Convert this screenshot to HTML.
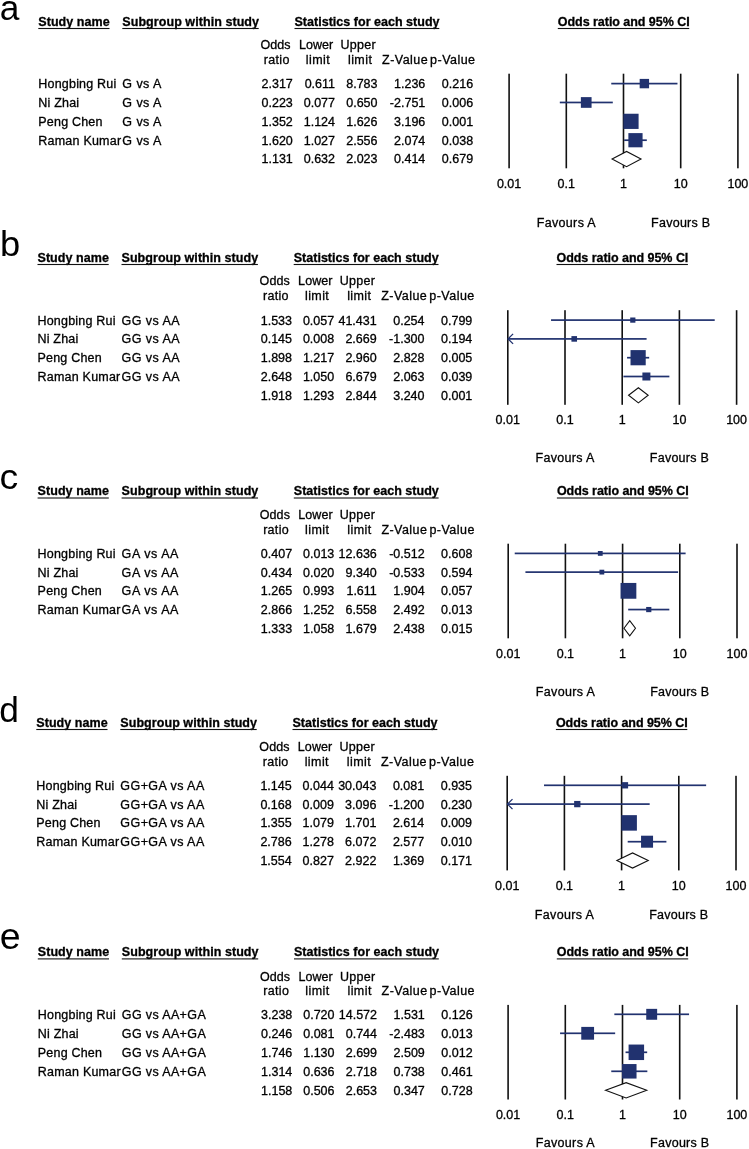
<!DOCTYPE html>
<html lang="en"><head><meta charset="utf-8"><title>Forest plots</title>
<style>
html,body{margin:0;padding:0;background:#fff;}
body{width:749px;height:1149px;overflow:hidden;}
svg{display:block;font-family:"Liberation Sans",Arial,Helvetica,sans-serif;font-size:12.5px;fill:#000;}
text{stroke:#000;stroke-width:0.3px;}
text.L{stroke:none;}
</style></head><body>
<svg width="749" height="1149" viewBox="0 0 749 1149">
<rect width="749" height="1149" fill="#fff"/>
<g transform="translate(-0.5,0)">
<text x="0.30" y="19.90" font-size="35.3" class="L">a</text>
<text x="38.80" y="25.50" textLength="71.35" font-weight="700">Study name</text>
<rect x="38.80" y="27.95" width="71.20" height="1.1" fill="#111"/>
<text x="122.80" y="25.50" textLength="136.70" font-weight="700">Subgroup within study</text>
<rect x="122.80" y="27.95" width="136.40" height="1.1" fill="#111"/>
<text x="295.00" y="25.50" textLength="144.99" font-weight="700">Statistics for each study</text>
<rect x="295.00" y="27.95" width="144.80" height="1.1" fill="#111"/>
<text x="260.91" y="49.30" textLength="30.18">Odds</text>
<text x="264.34" y="63.70" textLength="25.52">ratio</text>
<text x="299.43" y="49.30" textLength="34.35">Lower</text>
<text x="306.24" y="63.70" textLength="23.92">limit</text>
<text x="340.98" y="49.30" textLength="35.25">Upper</text>
<text x="348.44" y="63.70" textLength="23.92">limit</text>
<text x="382.60" y="63.70" textLength="45.54">Z-Value</text>
<text x="430.60" y="63.70" textLength="44.96">p-Value</text>
<text x="38.80" y="88.00" textLength="77.94">Hongbing Rui</text>
<text x="122.80" y="88.00" textLength="39.11">G vs A</text>
<text x="293.30" y="88.00" text-anchor="end">2.317</text>
<text x="335.50" y="88.00" text-anchor="end">0.611</text>
<text x="378.00" y="88.00" text-anchor="end">8.783</text>
<text x="425.80" y="88.00" text-anchor="end">1.236</text>
<text x="473.60" y="88.00" text-anchor="end">0.216</text>
<text x="38.80" y="106.87" textLength="40.79">Ni Zhai</text>
<text x="122.80" y="106.87" textLength="39.11">G vs A</text>
<text x="293.30" y="106.87" text-anchor="end">0.223</text>
<text x="335.50" y="106.87" text-anchor="end">0.077</text>
<text x="378.00" y="106.87" text-anchor="end">0.650</text>
<text x="425.80" y="106.87" text-anchor="end">-2.751</text>
<text x="473.60" y="106.87" text-anchor="end">0.006</text>
<text x="38.80" y="125.74" textLength="64.15">Peng Chen</text>
<text x="122.80" y="125.74" textLength="39.11">G vs A</text>
<text x="293.30" y="125.74" text-anchor="end">1.352</text>
<text x="335.50" y="125.74" text-anchor="end">1.124</text>
<text x="378.00" y="125.74" text-anchor="end">1.626</text>
<text x="425.80" y="125.74" text-anchor="end">3.196</text>
<text x="473.60" y="125.74" text-anchor="end">0.001</text>
<text x="38.80" y="144.61" textLength="82.78">Raman Kumar</text>
<text x="122.80" y="144.61" textLength="39.11">G vs A</text>
<text x="293.30" y="144.61" text-anchor="end">1.620</text>
<text x="335.50" y="144.61" text-anchor="end">1.027</text>
<text x="378.00" y="144.61" text-anchor="end">2.556</text>
<text x="425.80" y="144.61" text-anchor="end">2.074</text>
<text x="473.60" y="144.61" text-anchor="end">0.038</text>
<text x="293.30" y="163.48" text-anchor="end">1.131</text>
<text x="335.50" y="163.48" text-anchor="end">0.632</text>
<text x="378.00" y="163.48" text-anchor="end">2.023</text>
<text x="425.80" y="163.48" text-anchor="end">0.414</text>
<text x="473.60" y="163.48" text-anchor="end">0.679</text>
</g>
<g transform="translate(0,0)">
<text x="557.80" y="25.50" textLength="131.87" font-weight="700">Odds ratio and 95% CI</text>
<rect x="557.80" y="27.95" width="131.40" height="1.1" fill="#111"/>
<rect x="508.30" y="73.70" width="1.6" height="94.6" fill="#111"/>
<rect x="565.50" y="73.70" width="1.6" height="94.6" fill="#111"/>
<rect x="622.70" y="73.70" width="1.6" height="94.6" fill="#111"/>
<rect x="679.90" y="73.70" width="1.6" height="94.6" fill="#111"/>
<rect x="737.10" y="73.70" width="1.6" height="94.6" fill="#111"/>
<rect x="611.26" y="82.75" width="66.21" height="1.7" fill="#21326f"/>
<rect x="639.67" y="78.90" width="9.4" height="9.4" fill="#21326f"/>
<rect x="559.81" y="101.62" width="52.99" height="1.7" fill="#21326f"/>
<rect x="580.87" y="97.12" width="10.7" height="10.7" fill="#21326f"/>
<rect x="626.40" y="120.49" width="9.17" height="1.7" fill="#21326f"/>
<rect x="623.39" y="113.74" width="15.2" height="15.2" fill="#21326f"/>
<rect x="624.16" y="139.36" width="22.65" height="1.7" fill="#21326f"/>
<rect x="628.38" y="133.11" width="14.2" height="14.2" fill="#21326f"/>
<path d="M612.10 159.08 L626.56 151.48 L641.00 159.08 L626.56 166.68 Z" fill="#fff" stroke="#111" stroke-width="1.1"/>
<text x="509.10" y="187.80" text-anchor="middle">0.01</text>
<text x="566.30" y="187.80" text-anchor="middle">0.1</text>
<text x="623.50" y="187.80" text-anchor="middle">1</text>
<text x="680.70" y="187.80" text-anchor="middle">10</text>
<text x="737.90" y="187.80" text-anchor="middle">100</text>
<text x="536.72" y="226.50" textLength="58.96">Favours A</text>
<text x="651.12" y="226.50" textLength="58.96">Favours B</text>
</g>
<g transform="translate(-1.3,0)">
<text x="0.00" y="255.80" transform="translate(1.20,0) scale(1.03,1)" font-size="35.3" class="L">b</text>
<text x="38.80" y="261.50" textLength="71.35" font-weight="700">Study name</text>
<rect x="38.80" y="263.95" width="71.20" height="1.1" fill="#111"/>
<text x="122.80" y="261.50" textLength="136.70" font-weight="700">Subgroup within study</text>
<rect x="122.80" y="263.95" width="136.40" height="1.1" fill="#111"/>
<text x="295.00" y="261.50" textLength="144.99" font-weight="700">Statistics for each study</text>
<rect x="295.00" y="263.95" width="144.80" height="1.1" fill="#111"/>
<text x="260.91" y="285.30" textLength="30.18">Odds</text>
<text x="264.34" y="299.70" textLength="25.52">ratio</text>
<text x="299.43" y="285.30" textLength="34.35">Lower</text>
<text x="306.24" y="299.70" textLength="23.92">limit</text>
<text x="340.98" y="285.30" textLength="35.25">Upper</text>
<text x="348.44" y="299.70" textLength="23.92">limit</text>
<text x="382.60" y="299.70" textLength="45.54">Z-Value</text>
<text x="430.60" y="299.70" textLength="44.96">p-Value</text>
<text x="38.80" y="324.50" textLength="77.94">Hongbing Rui</text>
<text x="122.80" y="324.50" textLength="58.17">GG vs AA</text>
<text x="293.30" y="324.50" text-anchor="end">1.533</text>
<text x="335.50" y="324.50" text-anchor="end">0.057</text>
<text x="378.00" y="324.50" text-anchor="end">41.431</text>
<text x="425.80" y="324.50" text-anchor="end">0.254</text>
<text x="473.60" y="324.50" text-anchor="end">0.799</text>
<text x="38.80" y="343.30" textLength="40.79">Ni Zhai</text>
<text x="122.80" y="343.30" textLength="58.17">GG vs AA</text>
<text x="293.30" y="343.30" text-anchor="end">0.145</text>
<text x="335.50" y="343.30" text-anchor="end">0.008</text>
<text x="378.00" y="343.30" text-anchor="end">2.669</text>
<text x="425.80" y="343.30" text-anchor="end">-1.300</text>
<text x="473.60" y="343.30" text-anchor="end">0.194</text>
<text x="38.80" y="362.10" textLength="64.15">Peng Chen</text>
<text x="122.80" y="362.10" textLength="58.17">GG vs AA</text>
<text x="293.30" y="362.10" text-anchor="end">1.898</text>
<text x="335.50" y="362.10" text-anchor="end">1.217</text>
<text x="378.00" y="362.10" text-anchor="end">2.960</text>
<text x="425.80" y="362.10" text-anchor="end">2.828</text>
<text x="473.60" y="362.10" text-anchor="end">0.005</text>
<text x="38.80" y="380.90" textLength="82.78">Raman Kumar</text>
<text x="122.80" y="380.90" textLength="58.17">GG vs AA</text>
<text x="293.30" y="380.90" text-anchor="end">2.648</text>
<text x="335.50" y="380.90" text-anchor="end">1.050</text>
<text x="378.00" y="380.90" text-anchor="end">6.679</text>
<text x="425.80" y="380.90" text-anchor="end">2.063</text>
<text x="473.60" y="380.90" text-anchor="end">0.039</text>
<text x="293.30" y="399.70" text-anchor="end">1.918</text>
<text x="335.50" y="399.70" text-anchor="end">1.293</text>
<text x="378.00" y="399.70" text-anchor="end">2.844</text>
<text x="425.80" y="399.70" text-anchor="end">3.240</text>
<text x="473.60" y="399.70" text-anchor="end">0.001</text>
</g>
<g transform="translate(-1.3,0)">
<text x="557.80" y="261.50" textLength="131.87" font-weight="700">Odds ratio and 95% CI</text>
<rect x="557.80" y="263.95" width="131.40" height="1.1" fill="#111"/>
<rect x="508.30" y="310.20" width="1.6" height="94.6" fill="#111"/>
<rect x="565.50" y="310.20" width="1.6" height="94.6" fill="#111"/>
<rect x="622.70" y="310.20" width="1.6" height="94.6" fill="#111"/>
<rect x="679.90" y="310.20" width="1.6" height="94.6" fill="#111"/>
<rect x="737.10" y="310.20" width="1.6" height="94.6" fill="#111"/>
<rect x="552.34" y="319.25" width="163.67" height="1.7" fill="#21326f"/>
<rect x="631.51" y="317.50" width="5.2" height="5.2" fill="#21326f"/>
<rect x="509.10" y="338.05" width="138.79" height="1.7" fill="#21326f"/>
<path d="M514.40 333.90 L509.40 338.90 L514.40 343.90" fill="none" stroke="#21326f" stroke-width="1.3"/>
<rect x="572.73" y="336.10" width="5.6" height="5.6" fill="#21326f"/>
<rect x="628.38" y="356.85" width="22.08" height="1.7" fill="#21326f"/>
<rect x="631.82" y="350.10" width="15.2" height="15.2" fill="#21326f"/>
<rect x="624.71" y="375.65" width="45.96" height="1.7" fill="#21326f"/>
<rect x="643.69" y="372.50" width="8" height="8" fill="#21326f"/>
<path d="M629.88 395.30 L639.68 387.70 L649.46 395.30 L639.68 402.90 Z" fill="#fff" stroke="#111" stroke-width="1.1"/>
<text x="509.10" y="424.00" text-anchor="middle">0.01</text>
<text x="566.30" y="424.00" text-anchor="middle">0.1</text>
<text x="623.50" y="424.00" text-anchor="middle">1</text>
<text x="680.70" y="424.00" text-anchor="middle">10</text>
<text x="737.90" y="424.00" text-anchor="middle">100</text>
<text x="536.72" y="462.10" textLength="58.96">Favours A</text>
<text x="651.12" y="462.10" textLength="58.96">Favours B</text>
</g>
<g transform="translate(-1.2,0)">
<text x="0.00" y="488.80" transform="translate(0.80,0) scale(1.06,1)" font-size="35.3" class="L">c</text>
<text x="38.80" y="495.00" textLength="71.35" font-weight="700">Study name</text>
<rect x="38.80" y="497.45" width="71.20" height="1.1" fill="#111"/>
<text x="122.80" y="495.00" textLength="136.70" font-weight="700">Subgroup within study</text>
<rect x="122.80" y="497.45" width="136.40" height="1.1" fill="#111"/>
<text x="295.00" y="495.00" textLength="144.99" font-weight="700">Statistics for each study</text>
<rect x="295.00" y="497.45" width="144.80" height="1.1" fill="#111"/>
<text x="260.91" y="519.30" textLength="30.18">Odds</text>
<text x="264.34" y="533.70" textLength="25.52">ratio</text>
<text x="299.43" y="519.30" textLength="34.35">Lower</text>
<text x="306.24" y="533.70" textLength="23.92">limit</text>
<text x="340.98" y="519.30" textLength="35.25">Upper</text>
<text x="348.44" y="533.70" textLength="23.92">limit</text>
<text x="382.60" y="533.70" textLength="45.54">Z-Value</text>
<text x="430.60" y="533.70" textLength="44.96">p-Value</text>
<text x="38.80" y="557.80" textLength="77.94">Hongbing Rui</text>
<text x="122.80" y="557.80" textLength="56.78">GA vs AA</text>
<text x="293.30" y="557.80" text-anchor="end">0.407</text>
<text x="335.50" y="557.80" text-anchor="end">0.013</text>
<text x="378.00" y="557.80" text-anchor="end">12.636</text>
<text x="425.80" y="557.80" text-anchor="end">-0.512</text>
<text x="473.60" y="557.80" text-anchor="end">0.608</text>
<text x="38.80" y="576.52" textLength="40.79">Ni Zhai</text>
<text x="122.80" y="576.52" textLength="56.78">GA vs AA</text>
<text x="293.30" y="576.52" text-anchor="end">0.434</text>
<text x="335.50" y="576.52" text-anchor="end">0.020</text>
<text x="378.00" y="576.52" text-anchor="end">9.340</text>
<text x="425.80" y="576.52" text-anchor="end">-0.533</text>
<text x="473.60" y="576.52" text-anchor="end">0.594</text>
<text x="38.80" y="595.24" textLength="64.15">Peng Chen</text>
<text x="122.80" y="595.24" textLength="56.78">GA vs AA</text>
<text x="293.30" y="595.24" text-anchor="end">1.265</text>
<text x="335.50" y="595.24" text-anchor="end">0.993</text>
<text x="378.00" y="595.24" text-anchor="end">1.611</text>
<text x="425.80" y="595.24" text-anchor="end">1.904</text>
<text x="473.60" y="595.24" text-anchor="end">0.057</text>
<text x="38.80" y="613.96" textLength="82.78">Raman Kumar</text>
<text x="122.80" y="613.96" textLength="56.78">GA vs AA</text>
<text x="293.30" y="613.96" text-anchor="end">2.866</text>
<text x="335.50" y="613.96" text-anchor="end">1.252</text>
<text x="378.00" y="613.96" text-anchor="end">6.558</text>
<text x="425.80" y="613.96" text-anchor="end">2.492</text>
<text x="473.60" y="613.96" text-anchor="end">0.013</text>
<text x="293.30" y="632.68" text-anchor="end">1.333</text>
<text x="335.50" y="632.68" text-anchor="end">1.058</text>
<text x="378.00" y="632.68" text-anchor="end">1.679</text>
<text x="425.80" y="632.68" text-anchor="end">2.438</text>
<text x="473.60" y="632.68" text-anchor="end">0.015</text>
</g>
<g transform="translate(-0.9,0)">
<text x="557.80" y="495.00" textLength="131.87" font-weight="700">Odds ratio and 95% CI</text>
<rect x="557.80" y="497.45" width="131.40" height="1.1" fill="#111"/>
<rect x="508.30" y="543.70" width="1.6" height="94.6" fill="#111"/>
<rect x="565.50" y="543.70" width="1.6" height="94.6" fill="#111"/>
<rect x="622.70" y="543.70" width="1.6" height="94.6" fill="#111"/>
<rect x="679.90" y="543.70" width="1.6" height="94.6" fill="#111"/>
<rect x="737.10" y="543.70" width="1.6" height="94.6" fill="#111"/>
<rect x="515.62" y="552.55" width="170.89" height="1.7" fill="#21326f"/>
<rect x="598.77" y="551.00" width="4.8" height="4.8" fill="#21326f"/>
<rect x="526.32" y="571.27" width="152.68" height="1.7" fill="#21326f"/>
<rect x="600.36" y="569.72" width="4.8" height="4.8" fill="#21326f"/>
<rect x="623.33" y="589.99" width="12.02" height="1.7" fill="#21326f"/>
<rect x="621.44" y="582.94" width="15.8" height="15.8" fill="#21326f"/>
<rect x="629.08" y="608.71" width="41.14" height="1.7" fill="#21326f"/>
<rect x="647.06" y="606.96" width="5.2" height="5.2" fill="#21326f"/>
<path d="M624.90 628.28 L630.64 620.68 L636.37 628.28 L630.64 635.88 Z" fill="#fff" stroke="#111" stroke-width="1.1"/>
<text x="509.10" y="658.20" text-anchor="middle">0.01</text>
<text x="566.30" y="658.20" text-anchor="middle">0.1</text>
<text x="623.50" y="658.20" text-anchor="middle">1</text>
<text x="680.70" y="658.20" text-anchor="middle">10</text>
<text x="737.90" y="658.20" text-anchor="middle">100</text>
<text x="536.72" y="696.30" textLength="58.96">Favours A</text>
<text x="651.12" y="696.30" textLength="58.96">Favours B</text>
</g>
<g transform="translate(-2.5,0)">
<text x="1.80" y="721.50" font-size="35.3" class="L">d</text>
<text x="38.80" y="726.50" textLength="71.35" font-weight="700">Study name</text>
<rect x="38.80" y="728.95" width="71.20" height="1.1" fill="#111"/>
<text x="122.80" y="726.50" textLength="136.70" font-weight="700">Subgroup within study</text>
<rect x="122.80" y="728.95" width="136.40" height="1.1" fill="#111"/>
<text x="295.00" y="726.50" textLength="144.99" font-weight="700">Statistics for each study</text>
<rect x="295.00" y="728.95" width="144.80" height="1.1" fill="#111"/>
<text x="261.81" y="751.30" textLength="30.18">Odds</text>
<text x="265.24" y="765.70" textLength="25.52">ratio</text>
<text x="300.33" y="751.30" textLength="34.35">Lower</text>
<text x="307.14" y="765.70" textLength="23.92">limit</text>
<text x="341.88" y="751.30" textLength="35.25">Upper</text>
<text x="349.34" y="765.70" textLength="23.92">limit</text>
<text x="383.50" y="765.70" textLength="45.54">Z-Value</text>
<text x="431.50" y="765.70" textLength="44.96">p-Value</text>
<text x="38.80" y="789.70" textLength="77.94">Hongbing Rui</text>
<text x="122.80" y="789.70" textLength="83.93">GG+GA vs AA</text>
<text x="294.20" y="789.70" text-anchor="end">1.145</text>
<text x="336.40" y="789.70" text-anchor="end">0.044</text>
<text x="378.90" y="789.70" text-anchor="end">30.043</text>
<text x="426.70" y="789.70" text-anchor="end">0.081</text>
<text x="474.50" y="789.70" text-anchor="end">0.935</text>
<text x="38.80" y="808.50" textLength="40.79">Ni Zhai</text>
<text x="122.80" y="808.50" textLength="83.93">GG+GA vs AA</text>
<text x="294.20" y="808.50" text-anchor="end">0.168</text>
<text x="336.40" y="808.50" text-anchor="end">0.009</text>
<text x="378.90" y="808.50" text-anchor="end">3.096</text>
<text x="426.70" y="808.50" text-anchor="end">-1.200</text>
<text x="474.50" y="808.50" text-anchor="end">0.230</text>
<text x="38.80" y="827.30" textLength="64.15">Peng Chen</text>
<text x="122.80" y="827.30" textLength="83.93">GG+GA vs AA</text>
<text x="294.20" y="827.30" text-anchor="end">1.355</text>
<text x="336.40" y="827.30" text-anchor="end">1.079</text>
<text x="378.90" y="827.30" text-anchor="end">1.701</text>
<text x="426.70" y="827.30" text-anchor="end">2.614</text>
<text x="474.50" y="827.30" text-anchor="end">0.009</text>
<text x="38.80" y="846.10" textLength="82.78">Raman Kumar</text>
<text x="122.80" y="846.10" textLength="83.93">GG+GA vs AA</text>
<text x="294.20" y="846.10" text-anchor="end">2.786</text>
<text x="336.40" y="846.10" text-anchor="end">1.278</text>
<text x="378.90" y="846.10" text-anchor="end">6.072</text>
<text x="426.70" y="846.10" text-anchor="end">2.577</text>
<text x="474.50" y="846.10" text-anchor="end">0.010</text>
<text x="294.20" y="864.90" text-anchor="end">1.554</text>
<text x="336.40" y="864.90" text-anchor="end">0.827</text>
<text x="378.90" y="864.90" text-anchor="end">2.922</text>
<text x="426.70" y="864.90" text-anchor="end">1.369</text>
<text x="474.50" y="864.90" text-anchor="end">0.171</text>
</g>
<g transform="translate(-1.9,0)">
<text x="557.80" y="726.50" textLength="131.87" font-weight="700">Odds ratio and 95% CI</text>
<rect x="557.80" y="728.95" width="131.40" height="1.1" fill="#111"/>
<rect x="508.30" y="775.80" width="1.6" height="94.6" fill="#111"/>
<rect x="565.50" y="775.80" width="1.6" height="94.6" fill="#111"/>
<rect x="622.70" y="775.80" width="1.6" height="94.6" fill="#111"/>
<rect x="679.90" y="775.80" width="1.6" height="94.6" fill="#111"/>
<rect x="737.10" y="775.80" width="1.6" height="94.6" fill="#111"/>
<rect x="545.91" y="784.45" width="162.12" height="1.7" fill="#21326f"/>
<rect x="623.71" y="782.15" width="6.3" height="6.3" fill="#21326f"/>
<rect x="509.10" y="803.25" width="142.47" height="1.7" fill="#21326f"/>
<path d="M514.40 799.10 L509.40 804.10 L514.40 809.10" fill="none" stroke="#21326f" stroke-width="1.3"/>
<rect x="576.04" y="800.95" width="6.3" height="6.3" fill="#21326f"/>
<rect x="625.39" y="822.05" width="11.31" height="1.7" fill="#21326f"/>
<rect x="623.30" y="815.15" width="15.5" height="15.5" fill="#21326f"/>
<rect x="629.59" y="840.85" width="38.71" height="1.7" fill="#21326f"/>
<rect x="642.95" y="835.70" width="12" height="12" fill="#21326f"/>
<path d="M618.78 860.50 L634.45 852.90 L650.14 860.50 L634.45 868.10 Z" fill="#fff" stroke="#111" stroke-width="1.1"/>
<text x="509.10" y="890.10" text-anchor="middle">0.01</text>
<text x="566.30" y="890.10" text-anchor="middle">0.1</text>
<text x="623.50" y="890.10" text-anchor="middle">1</text>
<text x="680.70" y="890.10" text-anchor="middle">10</text>
<text x="737.90" y="890.10" text-anchor="middle">100</text>
<text x="536.72" y="918.60" textLength="58.96">Favours A</text>
<text x="651.12" y="918.60" textLength="58.96">Favours B</text>
</g>
<g transform="translate(-1.0,0)">
<text x="0.00" y="949.50" transform="translate(0.80,0) scale(1.03,1)" font-size="36.4" class="L">e</text>
<text x="38.80" y="955.90" textLength="71.35" font-weight="700">Study name</text>
<rect x="38.80" y="958.35" width="71.20" height="1.1" fill="#111"/>
<text x="122.80" y="955.90" textLength="136.70" font-weight="700">Subgroup within study</text>
<rect x="122.80" y="958.35" width="136.40" height="1.1" fill="#111"/>
<text x="295.00" y="955.90" textLength="144.99" font-weight="700">Statistics for each study</text>
<rect x="295.00" y="958.35" width="144.80" height="1.1" fill="#111"/>
<text x="260.91" y="980.60" textLength="30.18">Odds</text>
<text x="264.34" y="995.00" textLength="25.52">ratio</text>
<text x="299.43" y="980.60" textLength="34.35">Lower</text>
<text x="306.24" y="995.00" textLength="23.92">limit</text>
<text x="340.98" y="980.60" textLength="35.25">Upper</text>
<text x="348.44" y="995.00" textLength="23.92">limit</text>
<text x="382.60" y="995.00" textLength="45.54">Z-Value</text>
<text x="430.60" y="995.00" textLength="44.96">p-Value</text>
<text x="38.80" y="1018.70" textLength="77.94">Hongbing Rui</text>
<text x="122.80" y="1018.70" textLength="83.93">GG vs AA+GA</text>
<text x="293.30" y="1018.70" text-anchor="end">3.238</text>
<text x="335.50" y="1018.70" text-anchor="end">0.720</text>
<text x="378.00" y="1018.70" text-anchor="end">14.572</text>
<text x="425.80" y="1018.70" text-anchor="end">1.531</text>
<text x="473.60" y="1018.70" text-anchor="end">0.126</text>
<text x="38.80" y="1037.70" textLength="40.79">Ni Zhai</text>
<text x="122.80" y="1037.70" textLength="83.93">GG vs AA+GA</text>
<text x="293.30" y="1037.70" text-anchor="end">0.246</text>
<text x="335.50" y="1037.70" text-anchor="end">0.081</text>
<text x="378.00" y="1037.70" text-anchor="end">0.744</text>
<text x="425.80" y="1037.70" text-anchor="end">-2.483</text>
<text x="473.60" y="1037.70" text-anchor="end">0.013</text>
<text x="38.80" y="1056.70" textLength="64.15">Peng Chen</text>
<text x="122.80" y="1056.70" textLength="83.93">GG vs AA+GA</text>
<text x="293.30" y="1056.70" text-anchor="end">1.746</text>
<text x="335.50" y="1056.70" text-anchor="end">1.130</text>
<text x="378.00" y="1056.70" text-anchor="end">2.699</text>
<text x="425.80" y="1056.70" text-anchor="end">2.509</text>
<text x="473.60" y="1056.70" text-anchor="end">0.012</text>
<text x="38.80" y="1075.70" textLength="82.78">Raman Kumar</text>
<text x="122.80" y="1075.70" textLength="83.93">GG vs AA+GA</text>
<text x="293.30" y="1075.70" text-anchor="end">1.314</text>
<text x="335.50" y="1075.70" text-anchor="end">0.636</text>
<text x="378.00" y="1075.70" text-anchor="end">2.718</text>
<text x="425.80" y="1075.70" text-anchor="end">0.738</text>
<text x="473.60" y="1075.70" text-anchor="end">0.461</text>
<text x="293.30" y="1094.70" text-anchor="end">1.158</text>
<text x="335.50" y="1094.70" text-anchor="end">0.506</text>
<text x="378.00" y="1094.70" text-anchor="end">2.653</text>
<text x="425.80" y="1094.70" text-anchor="end">0.347</text>
<text x="473.60" y="1094.70" text-anchor="end">0.728</text>
</g>
<g transform="translate(-1.0,0)">
<text x="557.80" y="955.90" textLength="131.87" font-weight="700">Odds ratio and 95% CI</text>
<rect x="557.80" y="958.35" width="131.40" height="1.1" fill="#111"/>
<rect x="508.30" y="1004.90" width="1.6" height="94.6" fill="#111"/>
<rect x="565.50" y="1004.90" width="1.6" height="94.6" fill="#111"/>
<rect x="622.70" y="1004.90" width="1.6" height="94.6" fill="#111"/>
<rect x="679.90" y="1004.90" width="1.6" height="94.6" fill="#111"/>
<rect x="737.10" y="1004.90" width="1.6" height="94.6" fill="#111"/>
<rect x="615.34" y="1013.45" width="74.71" height="1.7" fill="#21326f"/>
<rect x="647.24" y="1008.85" width="10.9" height="10.9" fill="#21326f"/>
<rect x="561.07" y="1032.45" width="55.09" height="1.7" fill="#21326f"/>
<rect x="582.26" y="1026.90" width="12.8" height="12.8" fill="#21326f"/>
<rect x="626.54" y="1051.45" width="21.63" height="1.7" fill="#21326f"/>
<rect x="629.59" y="1044.55" width="15.5" height="15.5" fill="#21326f"/>
<rect x="612.26" y="1070.45" width="36.08" height="1.7" fill="#21326f"/>
<rect x="623.03" y="1064.05" width="14.5" height="14.5" fill="#21326f"/>
<path d="M606.58 1090.30 L627.14 1082.70 L647.74 1090.30 L627.14 1097.90 Z" fill="#fff" stroke="#111" stroke-width="1.1"/>
<text x="509.10" y="1119.00" text-anchor="middle">0.01</text>
<text x="566.30" y="1119.00" text-anchor="middle">0.1</text>
<text x="623.50" y="1119.00" text-anchor="middle">1</text>
<text x="680.70" y="1119.00" text-anchor="middle">10</text>
<text x="737.90" y="1119.00" text-anchor="middle">100</text>
<text x="536.72" y="1147.30" textLength="58.96">Favours A</text>
<text x="651.12" y="1147.30" textLength="58.96">Favours B</text>
</g>
</svg>
</body></html>
